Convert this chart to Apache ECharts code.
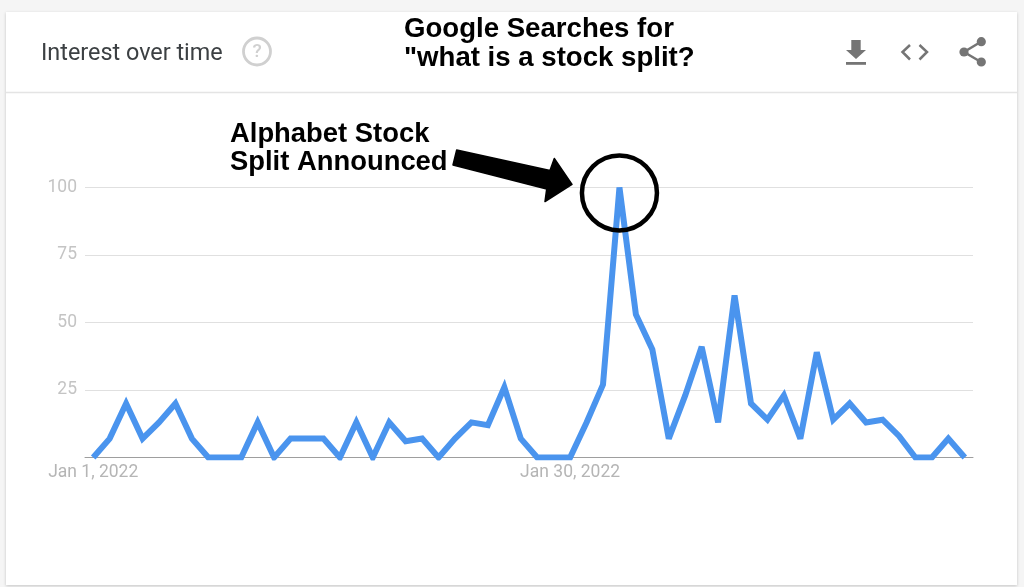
<!DOCTYPE html>
<html>
<head>
<meta charset="utf-8">
<title>Interest over time</title>
<script src="https://cdn.jsdelivr.net/npm/echarts@6/dist/echarts.min.js"></script>
<style>
    html, body { margin: 0; padding: 0; background: #f5f5f5; }
    #chart { width: 1024px; height: 587px; }
</style>
</head>
<body>
<div id="chart"></div>
<script>
// --- Data ---
const januaryDays = [1,2,3,4,5,6,7,8,9,10,11,12,13,14,15,16,17,18,19,20,21,22,23,24,25,26,27,28,29,30,31];
const februaryDays = [1,2,3,4,5,6,7,8,9,10,11,12,13,14,15,16,17,18,19,20,21,22,23];
const dates = [
    ...januaryDays.map(d => `Jan ${d}, 2022`),
    ...februaryDays.map(d => `Feb ${d}, 2022`)
];
const interest = [
    0, 7, 20, 7, 13, 20, 7, 0, 0, 0,
    13, 0, 7, 7, 7, 0, 13, 0, 13, 6,
    7, 0, 7, 13, 12, 26, 7, 0, 0, 0,
    13, 27, 100, 53, 40, 7, 23, 41, 13, 60,
    20, 14, 23, 7, 39, 14, 20, 13, 14, 8,
    0, 0, 7, 0
];
const shownDates = ['Jan 1, 2022', 'Jan 30, 2022'];
const yTicks = { min: 0, max: 100, interval: 25 };
const headerTitle = 'Interest over time';
const chartNote = 'Google Searches for\n"what is a stock split?';
const peakNote = 'Alphabet Stock\nSplit Announced';
const peakCircle = { date: 'Feb 2, 2022', value: 98 };

// --- Colours ---
const lineBlue = '#4a94ee';
const iconGrey = '#757575';
const helpGrey = '#d0d0d0';

// --- Header, icons and annotation drawn around the plot ---
function polyline(points, color, width) {
    return { type: 'polyline', shape: { points }, style: { stroke: color, lineWidth: width, fill: null } };
}
function dot(cx, cy, r, color) {
    return { type: 'circle', shape: { cx, cy, r }, style: { fill: color } };
}

const decorations = [
    { type: 'rect', z: -10, shape: { x: 6, y: 12, width: 1011, height: 573 },
      style: { fill: '#fff', shadowBlur: 3, shadowColor: 'rgba(0,0,0,0.2)', shadowOffsetY: 1 } },
    { type: 'line', z: -9, shape: { x1: 6, y1: 92.5, x2: 1017, y2: 92.5 }, style: { stroke: '#e4e4e4', lineWidth: 1.5 } },
    { type: 'text', x: 41, y: 54, style: { text: headerTitle, font: '23.4px Roboto', fill: '#3c4043', verticalAlign: 'middle' } },
    { type: 'circle', shape: { cx: 257, cy: 51.5, r: 13.5 }, style: { fill: null, stroke: helpGrey, lineWidth: 2.8 } },
    { type: 'text', x: 257, y: 52, style: { text: '?', font: '500 19px Roboto', fill: helpGrey, align: 'center', verticalAlign: 'middle' } },
    { type: 'text', x: 404, y: 44, style: { text: chartNote, font: 'bold 27.6px "Liberation Sans"', fill: '#000', lineHeight: 29, verticalAlign: 'middle' } },
    { type: 'text', x: 230, y: 148.5, style: { text: peakNote, font: 'bold 27.4px "Liberation Sans"', fill: '#000', lineHeight: 28, verticalAlign: 'middle' } },
    // z above the splitLine at 100, which would otherwise cut through the arrow head
    { type: 'polygon', z: 50, shape: { points: [[456.7,150],[550,170.5],[554.3,158.5],[572,184.3],[545,201.5],[546.7,189],[453,165]] },
      style: { fill: '#000', stroke: '#000', lineWidth: 1.5, lineJoin: 'round' } },
    // download
    { type: 'polygon', shape: { points: [[851.3,40],[860.7,40],[860.7,50],[866,50],[856,59],[846,50],[851.3,50]] }, style: { fill: iconGrey } },
    { type: 'rect', shape: { x: 846, y: 62, width: 20, height: 2.8 }, style: { fill: iconGrey } },
    // embed
    polyline([[910,45],[902.5,52],[910,59.5]], iconGrey, 2.5),
    polyline([[919.5,45],[927,52],[919.5,59.5]], iconGrey, 2.5),
    // share
    polyline([[981,41.7],[964,52],[981,62]], iconGrey, 2.5),
    dot(981.3, 41.7, 4.6, iconGrey),
    dot(964, 52, 4.6, iconGrey),
    dot(981.3, 62, 4.6, iconGrey)
];

// --- Chart ---
const chart = echarts.init(document.getElementById('chart'), null, { renderer: 'canvas' });
chart.setOption({
    animation: false,
    backgroundColor: '#f5f5f5',
    graphic: decorations,
    grid: { left: 85, right: 51, top: 187.5, height: 270 },
    xAxis: {
        type: 'category',
        data: dates,
        boundaryGap: true,
        axisLine: { lineStyle: { color: '#9e9e9e', width: 1 } },
        axisTick: { show: false },
        axisLabel: {
            color: '#b5b5b5',
            fontFamily: 'Roboto',
            fontSize: 17.5,
            margin: 6,
            hideOverlap: false,
            interval: (index, value) => shownDates.includes(value)
        }
    },
    yAxis: {
        type: 'value',
        min: yTicks.min,
        max: yTicks.max,
        interval: yTicks.interval,
        axisLine: { show: false },
        axisTick: { show: false },
        axisLabel: {
            color: '#c4c4c4',
            fontFamily: 'Roboto',
            fontSize: 17.5,
            margin: 8,
            padding: [6, 0, 0, 0],
            showMinLabel: false
        },
        splitLine: { lineStyle: { color: '#e0e0e0', width: 1 } }
    },
    series: [{
        type: 'line',
        data: interest,
        symbol: 'none',
        clip: true,
        lineStyle: { color: lineBlue, width: 6, join: 'miter', miterLimit: 3, cap: 'butt' },
        markPoint: {
            silent: true,
            symbol: 'circle',
            symbolSize: 75,
            label: { show: false },
            itemStyle: { color: 'rgba(0,0,0,0)', borderColor: '#000', borderWidth: 4.5 },
            data: [{ coord: [peakCircle.date, peakCircle.value] }]
        }
    }]
});
</script>
</body>
</html>
